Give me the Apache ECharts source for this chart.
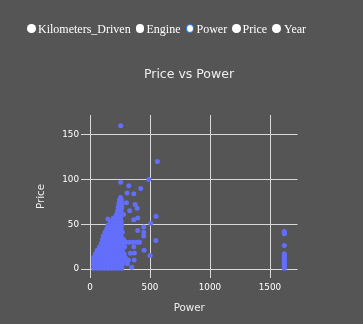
<!DOCTYPE html>
<html>
<head>
<meta charset="utf-8">
<script src="https://cdn.jsdelivr.net/npm/echarts@6/dist/echarts.min.js"></script>
<style>
  html, body { margin: 0; padding: 0; background: #555555; }
  #wrap { position: relative; width: 363px; height: 324px; overflow: hidden; }
  #chart { position: absolute; left: 0; top: 0; width: 363px; height: 324px; }
  .opt { position: absolute; top: 20.5px; font-family: "Liberation Serif", "DejaVu Serif", "Times New Roman", serif; font-size: 12px; line-height: 16px; color: #ffffff; white-space: nowrap; }
  .dot { position: absolute; top: 24px; width: 8.5px; height: 8.5px; border-radius: 50%; background: #ffffff; box-sizing: border-box; }
  .dot.on { border: 1.6px solid #1a73e8; }
</style>
</head>
<body>
<div id="wrap">
  <div id="chart"></div>
  <span class="dot" style="left:27.3px"></span><span class="opt" style="left:38px">Kilometers_Driven</span>
  <span class="dot" style="left:135.5px"></span><span class="opt" style="left:146.5px">Engine</span>
  <span class="dot on" style="left:185.5px"></span><span class="opt" style="left:196.5px">Power</span>
  <span class="dot" style="left:232px"></span><span class="opt" style="left:242.5px">Price</span>
  <span class="dot" style="left:272px"></span><span class="opt" style="left:284px">Year</span>
</div>
<script>
// tick labels
const xTicks = [0, 500, 1000, 1500];
const yTicks = [0, 50, 100, 150];

// [Power, Price]
const mainCluster = [
  [30,1],[60,1],[90,1],[120,1],[150,1],[180,1],[210,1],[240,1],[265,1],
  [30,5],[60,5],[90,5],[120,5],[150,5],[180,5],[210,5],[240,5],[270,5],
  [30,9],[60,9],[95,9],[125,9],[155,9],[185,9],[215,9],[245,9],[275,9],[300,9],
  [30,13],[60,13],[90,13],[120,13],[150,13],[180,13],[210,13],[240,13],[270,13],[295,13],
  [45,17],[75,17],[105,17],[135,17],[165,17],[195,17],[225,17],[255,17],[285,17],
  [60,21],[90,21],[120,21],[150,21],[180,21],[210,21],[240,21],[270,21],
  [80,25],[110,25],[140,25],[170,25],[200,25],[230,25],[260,25],[290,25],
  [95,29],[125,29],[155,29],[185,29],[215,29],[245,29],[275,29],
  [300,30],[330,30],[360,30],[390,30],[410,30],
  [105,33],[135,33],[165,33],[195,33],[225,33],[255,33],[280,33],
  [110,37],[140,37],[170,37],[200,37],[230,37],[260,37],
  [125,41],[155,41],[185,41],[215,41],[245,41],[270,41],
  [140,45],[170,45],[200,45],[230,45],[260,45],
  [150,49],[180,49],[210,49],[240,49],[265,49],
  [170,53],[200,53],[230,53],[260,53],
  [195,57],[225,57],[255,57],
  [220,61],[250,61],[280,61],
  [230,65],[260,65],
  [235,69],[265,69],
  [240,73],[265,73],
  [245,77],[262,77],
  [255,80]
];

const outliers = [
  [256,160],[562,120],[490,100],[256,97],[323,93],[423,90],[309,85],[365,84],
  [304,74],[376,72],[393,68],[331,65],[551,59],[365,55],[398,57],[150,56],
  [507,51],[448,47],[398,43],[448,41],[448,37],[549,32],[412,30],[365,25],
  [451,21],[337,17.5],[501,15],[370,18],[320,10],[368,10],[348,2],[312,6],[262,6]
];

const column = [
  [1620,42],[1620,40.5],[1620,39.5],[1620,26.4],
  [1620,17],[1620,15],[1620,13],[1620,11],[1620,9],[1620,7],[1620,5],[1620,3],[1620,1]
];

const font = "'DejaVu Sans', Verdana, sans-serif";
const chart = echarts.init(document.getElementById('chart'));
chart.setOption({
  backgroundColor: 'transparent',
  animation: false,
  title: {
    text: 'Price vs Power',
    left: 189,
    top: 68,
    padding: 0,
    textAlign: 'center',
    textStyle: { color: '#eeeeee', fontFamily: font, fontSize: 12.5, fontWeight: 'normal' }
  },
  grid: { left: 81, right: 65.5, top: 115, bottom: 46 },
  xAxis: {
    type: 'value',
    min: -75,
    max: 1730,
    name: 'Power',
    nameLocation: 'middle',
    nameGap: 25,
    nameTextStyle: { color: '#eeeeee', fontFamily: font, fontSize: 10.3 },
    axisLine: { show: false },
    axisTick: { show: false, customValues: xTicks },
    axisLabel: { customValues: xTicks, margin: 5, color: '#ffffff', fontFamily: font, fontSize: 8.8, formatter: v => String(v) },
    splitLine: { show: true, lineStyle: { color: '#d8d8d8', width: 1 } }
  },
  yAxis: {
    type: 'value',
    min: -10,
    max: 172,
    name: 'Price',
    nameLocation: 'middle',
    nameGap: 35,
    nameTextStyle: { color: '#eeeeee', fontFamily: font, fontSize: 10.3 },
    axisLine: { show: false },
    axisTick: { show: false, customValues: yTicks },
    axisLabel: { customValues: yTicks, margin: 2, color: '#ffffff', fontFamily: font, fontSize: 8.8, formatter: v => String(v) },
    splitLine: { show: true, lineStyle: { color: '#d8d8d8', width: 1 } }
  },
  series: [{
    type: 'scatter',
    symbolSize: 5,
    itemStyle: { color: '#636efa', opacity: 1 },
    data: mainCluster.concat(outliers, column)
  }]
});
</script>
</body>
</html>
